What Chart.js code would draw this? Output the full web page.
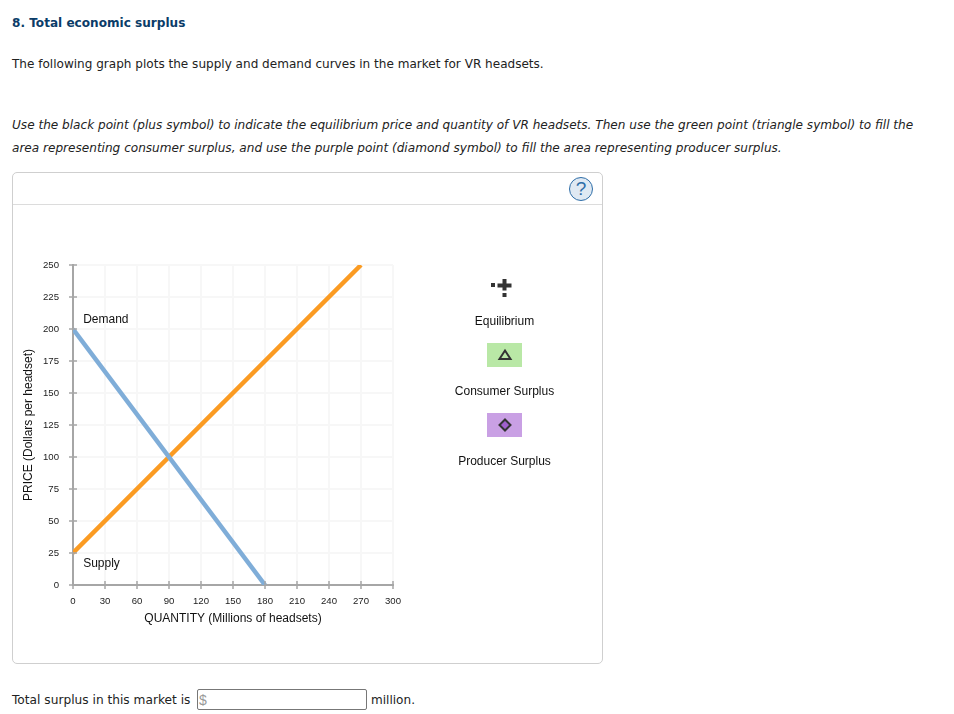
<!DOCTYPE html>
<html>
<head>
<meta charset="utf-8">
<title>Total economic surplus</title>
<script src="https://cdn.jsdelivr.net/npm/chart.js"></script>
<style>
  html, body { margin: 0; background: #fff; }
  body { width: 954px; height: 714px; position: relative; overflow: hidden; font-family: "DejaVu Sans", sans-serif; font-size: 12.05px; color: #222; }
  .txt { position: absolute; white-space: nowrap; line-height: 16px; }
  .heading { left: 12px; top: 15px; font-weight: bold; font-size: 12.09px; color: #0b3c68; }
  .panel { position: absolute; left: 12px; top: 172px; width: 589px; height: 490px; border: 1px solid #cfcfcf; border-radius: 5px; }
  .panel-head { position: absolute; left: 0; right: 0; top: 31px; border-top: 1px solid #dcdcdc; }
  .help { position: absolute; left: 556px; top: 4px; width: 22px; height: 22px; border: 1.5px solid #2f6ea8; border-radius: 50%; background: #dfe9f3; color: #2f6ea8; font: 19px/22px "Liberation Sans", sans-serif; text-align: center; }
  #chart-box { position: absolute; left: 13px; top: 205px; width: 589px; height: 458px; }
  .tool-label { position: absolute; width: 141px; text-align: center; font: 12px/14px "Liberation Sans", sans-serif; color: #111; }
  .swatch { position: absolute; left: 487px; width: 35px; height: 24px; }
  .answer { position: absolute; left: 197px; top: 689px; width: 168px; height: 19px; border: 1px solid #777; border-radius: 2px; font: 14px/20px "Liberation Sans", sans-serif; color: #999; text-indent: 1px; }
</style>
</head>
<body>
<div class="txt heading">8. Total economic surplus</div>
<div class="txt" style="left:12px;top:56px">The following graph plots the supply and demand curves in the market for VR headsets.</div>
<div class="txt" style="left:12px;top:117px;font-style:italic;font-size:12.08px">Use the black point (plus symbol) to indicate the equilibrium price and quantity of VR headsets. Then use the green point (triangle symbol) to fill the</div>
<div class="txt" style="left:12px;top:140px;font-style:italic;font-size:12.08px">area representing consumer surplus, and use the purple point (diamond symbol) to fill the area representing producer surplus.</div>

<div class="panel">
  <div class="panel-head"></div>
  <div class="help">?</div>
</div>
<div id="chart-box"><canvas id="surplus-chart"></canvas></div>

<svg style="position:absolute;left:490px;top:278px" width="30" height="22">
  <path d="M1 5h4v4h-4zM12.5 1h4v4.5h5v4h-5v3h-4v-3h-5v-4h5zM12.5 15h4v4h-4z" fill="#333"/>
</svg>
<div class="tool-label" style="left:434px;top:314px">Equilibrium</div>
<div class="swatch" style="top:343px;background:#b9e8a6">
  <svg width="35" height="24"><path d="M18 7.5l5.5 8.5h-11z" fill="none" stroke="#333" stroke-width="2"/></svg>
</div>
<div class="tool-label" style="left:434px;top:384px">Consumer Surplus</div>
<div class="swatch" style="top:413px;background:#c9a0e4">
  <svg width="35" height="24"><path d="M18 6.5l5.5 5.5-5.5 5.5-5.5-5.5z" fill="#a060cc" stroke="#333" stroke-width="2"/></svg>
</div>
<div class="tool-label" style="left:434px;top:454px">Producer Surplus</div>

<div class="txt" style="left:12px;top:692px;font-size:12.2px">Total surplus in this market is</div>
<div class="answer">$</div>
<div class="txt" style="left:371px;top:692px">million.</div>

<script>
const quantityTicks = [0, 30, 60, 90, 120, 150, 180, 210, 240, 270, 300];
const priceTicks = [0, 25, 50, 75, 100, 125, 150, 175, 200, 225, 250];

const demandQuantity = [0, 180];
const demandPrice = [200, 0];
const supplyQuantity = [0, 270];
const supplyPrice = [25, 250];

const curveLabels = [
    {text: 'Demand', x: 9.5, y: 207.5},
    {text: 'Supply', x: 9.5, y: 17}
];

function toPoints(xs, ys) {
    return xs.map((x, i) => ({x: x, y: ys[i]}));
}

// axis crosses the ticks on both sides, chart.js only draws them outward
const crossTicks = {
    id: 'crossTicks',
    afterDatasetsDraw(chart) {
        const ctx = chart.ctx;
        const xs = chart.scales.x, ys = chart.scales.y;
        ctx.save();
        ctx.strokeStyle = '#a6a6a6';
        ctx.lineWidth = 1.5;
        ctx.beginPath();
        quantityTicks.forEach(v => {
            const px = xs.getPixelForValue(v);
            ctx.moveTo(px, ys.bottom - 4);
            ctx.lineTo(px, ys.bottom + 4);
        });
        priceTicks.forEach(v => {
            const py = ys.getPixelForValue(v);
            ctx.moveTo(xs.left - 4, py);
            ctx.lineTo(xs.left + 4, py);
        });
        ctx.stroke();
        ctx.fillStyle = '#111';
        ctx.font = '12px "Liberation Sans"';
        ctx.textBaseline = 'middle';
        curveLabels.forEach(l => {
            ctx.fillText(l.text, xs.getPixelForValue(l.x), ys.getPixelForValue(l.y));
        });
        ctx.restore();
    }
};

new Chart(document.getElementById('surplus-chart'), {
    type: 'scatter',
    data: {
        datasets: [{
            label: 'Demand',
            data: toPoints(demandQuantity, demandPrice),
            showLine: true,
            borderColor: '#7fadd8',
            borderWidth: 4.5,
            pointRadius: 0
        }, {
            label: 'Supply',
            data: toPoints(supplyQuantity, supplyPrice),
            showLine: true,
            borderColor: '#fb9b22',
            borderWidth: 4.5,
            pointRadius: 0
        }]
    },
    plugins: [crossTicks],
    options: {
        responsive: true,
        maintainAspectRatio: false,
        animation: false,
        layout: {padding: {top: 60, right: 209, bottom: 37, left: 0}},
        plugins: {legend: {display: false}, tooltip: {enabled: false}},
        scales: {
            x: {
                type: 'linear',
                min: 0,
                max: 300,
                afterFit: scale => { scale.height = 41; },
                afterBuildTicks: scale => { scale.ticks = quantityTicks.map(v => ({value: v})); },
                grid: {color: '#f7f7f7', lineWidth: 2, tickLength: 0},
                border: {color: '#a6a6a6', width: 2},
                ticks: {color: '#222', font: {family: 'Liberation Sans', size: 9.6}, padding: 11, maxRotation: 0, autoSkip: false},
                title: {display: true, text: 'QUANTITY (Millions of headsets)', color: '#111', font: {family: 'Liberation Sans', size: 12}, padding: {top: 2, bottom: 0}}
            },
            y: {
                type: 'linear',
                min: 0,
                max: 250,
                afterFit: scale => { scale.width = 60; },
                afterBuildTicks: scale => { scale.ticks = priceTicks.map(v => ({value: v})); },
                grid: {color: '#f7f7f7', lineWidth: 2, tickLength: 0},
                border: {color: '#a6a6a6', width: 2},
                ticks: {color: '#222', font: {family: 'Liberation Sans', size: 9.6}, padding: 14, autoSkip: false},
                title: {display: true, text: 'PRICE (Dollars per headset)', color: '#111', font: {family: 'Liberation Sans', size: 12}, padding: {top: 8, bottom: 0}}
            }
        }
    }
});
</script>
</body>
</html>
